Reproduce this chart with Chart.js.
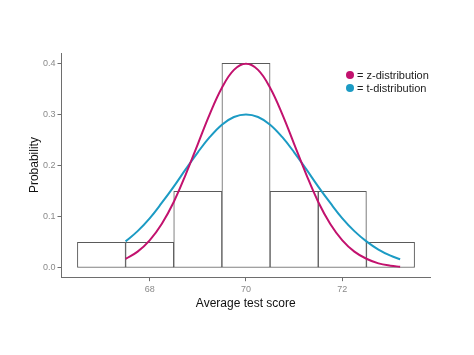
<!DOCTYPE html>
<html><head><meta charset="utf-8">
<script src="https://cdn.jsdelivr.net/npm/chart.js@4"></script>
<style>
html,body{margin:0;padding:0;background:#fff;}
#wrap{position:relative;width:474px;height:355px;}
#legend{position:absolute;left:346px;top:69px;font-family:"Liberation Sans",Arial,sans-serif;font-size:11px;color:#222;line-height:13px;}
#legend .dot{display:inline-block;width:8px;height:8px;border-radius:50%;margin-right:3px;vertical-align:0px;}
</style></head>
<body>
<div id="wrap"><canvas id="c" width="474" height="355"></canvas>
<div id="legend"><div><span class="dot" style="background:#c2126e"></span>= z-distribution</div><div><span class="dot" style="background:#1c9bc4"></span>= t-distribution</div></div>
</div>
<script>
const binCenters = [67, 68, 69, 70, 71, 72, 73];
const binHeights = [0.05, 0.05, 0.15, 0.4, 0.15, 0.15, 0.05];
const curveX = [67.5,67.75,68,68.25,68.5,68.75,69,69.25,69.5,69.75,70,70.25,70.5,70.75,71,71.25,71.5,71.75,72,72.25,72.5,72.75,73,73.2];
const zValues = [0.018,0.032,0.054,0.086,0.129,0.183,0.242,0.301,0.352,0.387,0.399,0.387,0.352,0.301,0.242,0.183,0.129,0.086,0.054,0.032,0.018,0.009,0.0045,0.0025];
const tValues = [0.052,0.072,0.097,0.127,0.159,0.193,0.226,0.256,0.280,0.295,0.300,0.295,0.280,0.256,0.226,0.193,0.159,0.127,0.097,0.072,0.052,0.036,0.024,0.017];
const xTicks = [68, 70, 72];
const yTicks = [0, 0.1, 0.2, 0.3, 0.4];

const pts = (xs, ys) => xs.map((x, i) => ({x, y: ys[i]}));
const axisColor = '#6e6e6e';
new Chart(document.getElementById('c'), {
  type: 'bar',
  data: {
    datasets: [
      {type:'line', data: pts(curveX, zValues), borderColor:'#c2126e', borderWidth:2, pointRadius:0, tension:0.4, fill:false, order:1},
      {type:'line', data: pts(curveX, tValues), borderColor:'#1c9bc4', borderWidth:2, pointRadius:0, tension:0.4, fill:false, order:2},
      {type:'bar', data: pts(binCenters, binHeights), backgroundColor:'#ffffff', borderColor:'#5a5a5a', borderWidth:1, borderSkipped:false, barPercentage:1, categoryPercentage:1, order:3}
    ]
  },
  options: {
    responsive:false, animation:false,
    layout:{padding:{left:25, right:44, top:53, bottom:41}},
    plugins:{legend:{display:false}, tooltip:{enabled:false}},
    scales:{
      x:{type:'linear', min:66.17, max:73.82, offset:false,
        afterBuildTicks: s => { s.ticks = xTicks.map(v => ({value:v})); },
        ticks:{color:'#8a8a8a', font:{family:'"Liberation Sans", Arial', size:9}, padding:3, callback: v => String(v)},
        grid:{drawOnChartArea:false, drawTicks:true, tickLength:4, color:axisColor, offset:false},
        border:{color:axisColor, width:1},
        title:{display:true, text:'Average test score', color:'#111', font:{family:'"Liberation Sans", Arial', size:12, lineHeight:1}, padding:{top:0, bottom:4}}
      },
      y:{min:-0.018, max:0.42,
        afterBuildTicks: s => { s.ticks = yTicks.map(v => ({value:v})); },
        ticks:{color:'#8a8a8a', font:{family:'"Liberation Sans", Arial', size:9}, padding:2, callback: v => v.toFixed(1)},
        grid:{drawOnChartArea:false, drawTicks:true, tickLength:4, color:axisColor},
        border:{color:axisColor, width:1},
        title:{display:true, text:'Probability', color:'#111', font:{family:'"Liberation Sans", Arial', size:12, lineHeight:1}, padding:{top:4, bottom:0}}
      }
    }
  }
});
</script>
</body></html>
